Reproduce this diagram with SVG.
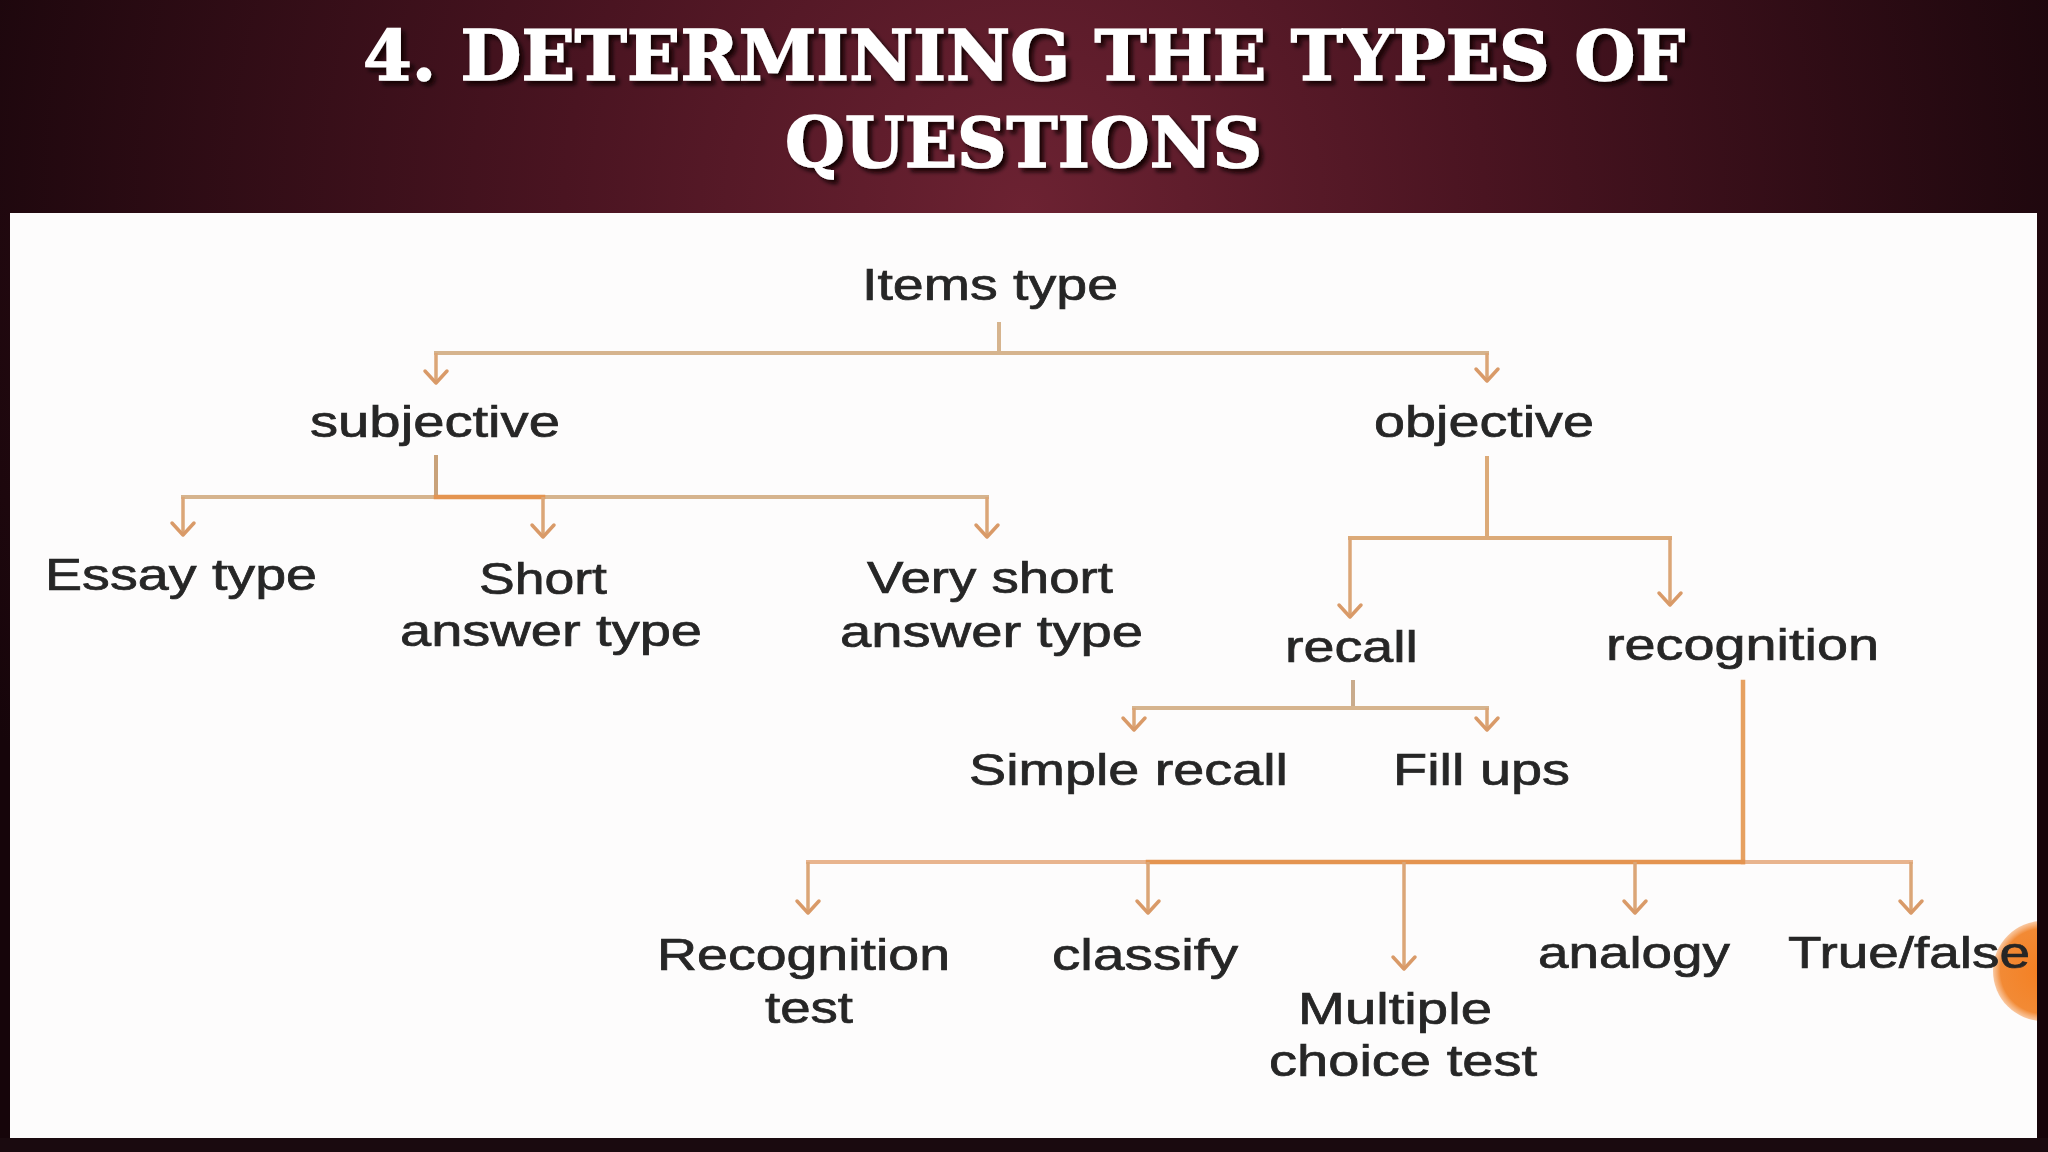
<svg xmlns="http://www.w3.org/2000/svg" width="2048" height="1152" viewBox="0 0 2048 1152">
  <defs>
    <radialGradient id="bg" gradientUnits="userSpaceOnUse" cx="1024" cy="210" r="1150">
      <stop offset="0" stop-color="#6c2232"/>
      <stop offset="0.4" stop-color="#4a1421"/>
      <stop offset="1" stop-color="#16050a"/>
    </radialGradient>
    <radialGradient id="dot" cx="0.5" cy="0.5" r="0.5">
      <stop offset="0" stop-color="#f47f22"/>
      <stop offset="0.85" stop-color="#f28a35"/>
      <stop offset="1" stop-color="#f6a463" stop-opacity="0.6"/>
    </radialGradient>
    <clipPath id="panelClip">
      <rect x="10" y="213" width="2027" height="925"/>
    </clipPath>
    <filter id="tshadow" x="-5%" y="-20%" width="110%" height="150%">
      <feDropShadow dx="4" dy="4" stdDeviation="2" flood-color="#0c0204" flood-opacity="0.9"/>
    </filter>
    <marker id="arr" markerUnits="userSpaceOnUse" markerWidth="30" markerHeight="30" refX="0" refY="0" orient="auto" overflow="visible">
      <path d="M-12,-11 L0,0 L-12,11" fill="none" stroke="#d99a68" stroke-width="3.5" stroke-linecap="round" stroke-linejoin="round"/>
    </marker>
  </defs>
  <style>
    .title { font-family: "DejaVu Serif", "Liberation Serif", serif; font-weight: bold; font-size: 70px; fill: #ffffff; stroke: #ffffff; stroke-width: 1.5px; }
    .lbl { font-family: "Liberation Sans", Arial, sans-serif; font-size: 44px; fill: #262626; stroke: #262626; stroke-width: 0.7px; }
    .ln { fill: none; stroke: #d6b48e; stroke-width: 4; stroke-linecap: square; }
    .lo { fill: none; stroke: #e49450; stroke-width: 4.5; stroke-linecap: square; }
    .ar { fill: none; stroke: #dba677; stroke-width: 3.5; marker-end: url(#arr); }
  </style>

  <rect x="0" y="0" width="2048" height="1152" fill="url(#bg)"/>
  <rect x="0" y="1138" width="2048" height="14" fill="#1a0a0f"/>

  <g id="title" filter="url(#tshadow)">
    <text class="title" x="363" y="80" textLength="1322" lengthAdjust="spacingAndGlyphs">4. DETERMINING THE TYPES OF</text>
    <text class="title" x="785" y="167" textLength="477" lengthAdjust="spacingAndGlyphs">QUESTIONS</text>
  </g>

  <rect id="panel" x="10" y="213" width="2027" height="925" fill="#fdfcfc"/>
  <circle id="dot" cx="2043" cy="971" r="50" fill="url(#dot)" clip-path="url(#panelClip)"/>

  <g id="connectors">
    <path class="ln" d="M999,324 V353"/>
    <path class="ln" d="M436,353 H1487"/>
    <path class="ar" d="M436,353 V383"/>
    <path class="ar" d="M1487,353 V381"/>

    <path class="ln" d="M436,457 V497" style="stroke:#c9a27a"/>
    <path class="ln" d="M183,497 H987"/>
    <path class="lo" d="M436,497 H543"/>
    <path class="ar" d="M183,497 V535"/>
    <path class="ar" d="M543,497 V537"/>
    <path class="ar" d="M987,497 V537"/>

    <path class="ln" d="M1487,458 V538" style="stroke:#dcaa78"/>
    <path class="ln" d="M1350,538 H1670" style="stroke:#dcaa78"/>
    <path class="ar" d="M1350,538 V617"/>
    <path class="ar" d="M1670,538 V605"/>

    <path class="ln" d="M1353,682 V708" style="stroke:#c9ab8c"/>
    <path class="ln" d="M1134,708 H1487"/>
    <path class="ar" d="M1134,708 V730"/>
    <path class="ar" d="M1487,708 V730"/>

    <path class="lo" d="M1743,682 V862" style="stroke:#e6a060"/>
    <path class="ln" d="M808,862 H1911" style="stroke:#e8b48e"/>
    <path class="lo" d="M1148,862 H1743"/>
    <path class="ar" d="M808,862 V913"/>
    <path class="ar" d="M1148,862 V913"/>
    <path class="ar" d="M1404,862 V969"/>
    <path class="ar" d="M1635,862 V913"/>
    <path class="ar" d="M1911,862 V913"/>
  </g>

  <g id="n-items"><text class="lbl" x="862" y="300" textLength="256" lengthAdjust="spacingAndGlyphs">Items type</text></g>
  <g id="n-subjective"><text class="lbl" x="310" y="437" textLength="250" lengthAdjust="spacingAndGlyphs">subjective</text></g>
  <g id="n-objective"><text class="lbl" x="1374" y="437" textLength="220" lengthAdjust="spacingAndGlyphs">objective</text></g>
  <g id="n-essay"><text class="lbl" x="45" y="590" textLength="272" lengthAdjust="spacingAndGlyphs">Essay type</text></g>
  <g id="n-short">
    <text class="lbl" x="479" y="594" textLength="128" lengthAdjust="spacingAndGlyphs">Short</text>
    <text class="lbl" x="400" y="646" textLength="302" lengthAdjust="spacingAndGlyphs">answer type</text>
  </g>
  <g id="n-veryshort">
    <text class="lbl" x="867" y="593" textLength="246" lengthAdjust="spacingAndGlyphs">Very short</text>
    <text class="lbl" x="840" y="647" textLength="303" lengthAdjust="spacingAndGlyphs">answer type</text>
  </g>
  <g id="n-recall"><text class="lbl" x="1285" y="662" textLength="133" lengthAdjust="spacingAndGlyphs">recall</text></g>
  <g id="n-recognition"><text class="lbl" x="1606" y="660" textLength="273" lengthAdjust="spacingAndGlyphs">recognition</text></g>
  <g id="n-simplerecall"><text class="lbl" x="969" y="785" textLength="319" lengthAdjust="spacingAndGlyphs">Simple recall</text></g>
  <g id="n-fillups"><text class="lbl" x="1393" y="785" textLength="177" lengthAdjust="spacingAndGlyphs">Fill ups</text></g>
  <g id="n-recogtest">
    <text class="lbl" x="657" y="970" textLength="293" lengthAdjust="spacingAndGlyphs">Recognition</text>
    <text class="lbl" x="765" y="1023" textLength="88" lengthAdjust="spacingAndGlyphs">test</text>
  </g>
  <g id="n-classify"><text class="lbl" x="1052" y="970" textLength="186" lengthAdjust="spacingAndGlyphs">classify</text></g>
  <g id="n-mcq">
    <text class="lbl" x="1298" y="1024" textLength="194" lengthAdjust="spacingAndGlyphs">Multiple</text>
    <text class="lbl" x="1269" y="1076" textLength="268" lengthAdjust="spacingAndGlyphs">choice test</text>
  </g>
  <g id="n-analogy"><text class="lbl" x="1538" y="968" textLength="192" lengthAdjust="spacingAndGlyphs">analogy</text></g>
  <g id="n-truefalse"><text class="lbl" x="1788" y="968" textLength="242" lengthAdjust="spacingAndGlyphs">True/false</text></g>
</svg>
